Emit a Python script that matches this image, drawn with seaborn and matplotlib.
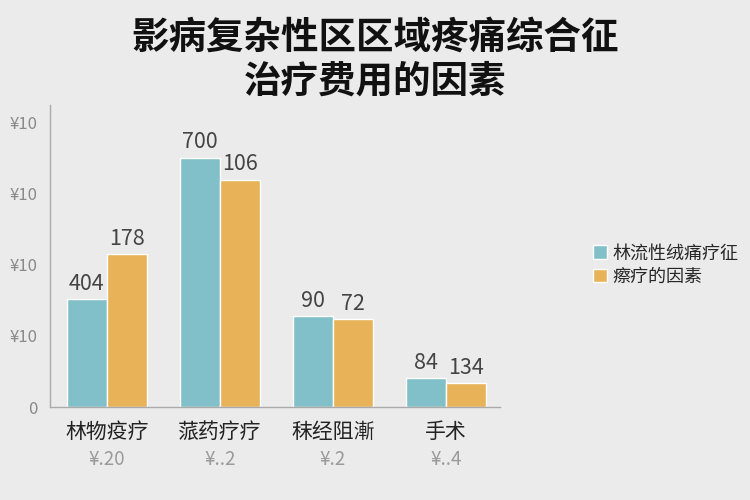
import matplotlib
matplotlib.use("Agg")
import matplotlib.pyplot as plt
import seaborn as sns
import pandas as pd
import numpy as np

categories = ["林物疫疗", "蒎药疗疗", "秣经阻漸", "手术"]
sub_labels = ["¥.20", "¥..2", "¥.2", "¥..4"]
series_names = ["林流性绒痛疗征", "瘵疗的因素"]
series_a = [303, 702, 255, 81]
series_b = [430, 640, 247, 67]
label_a = ["404", "700", "90", "84"]
label_b = ["178", "106", "72", "134"]
y_ticks = [0, 200, 400, 600, 800]
y_tick_labels = ["0", "¥10", "¥10", "¥10", "¥10"]
title = "影病复杂性区区域疼痛综合征\n治疗费用的因素"

sns.set_theme(style="white")
plt.rcParams['font.family'] = ['Noto Sans CJK SC', 'DejaVu Sans']

bg = "#ebebeb"
colors = ["#82c0c9", "#e8b258"]

df = pd.DataFrame({
    "cat": categories * 2,
    "series": [series_names[0]] * 4 + [series_names[1]] * 4,
    "value": series_a + series_b,
})

fig = plt.figure(figsize=(7.5, 5), dpi=100, facecolor=bg)
ax = fig.add_axes([0.067, 0.186, 0.6, 0.604])
ax.set_facecolor(bg)
sns.barplot(data=df, x="cat", y="value", hue="series", palette=colors,
            width=0.71, saturation=1, ax=ax, legend=True)

for cont, labs in zip(ax.containers, [label_a, label_b]):
    ax.bar_label(cont, labels=labs, padding=3, fontsize=15.5, color="#444444")

ax.set_xlim(-0.5, 3.48)
ax.set_ylim(0, 850)
ax.set_yticks(y_ticks)
ax.set_yticklabels(y_tick_labels, color="#8a8a8a", fontsize=12)
ax.set_xticks(range(len(categories)))
ax.set_xticklabels(categories, fontsize=15, color="#222222")
for i, s in enumerate(sub_labels):
    ax.text(i, -0.14, s, transform=ax.get_xaxis_transform(), ha="center",
            va="top", fontsize=13.5, color="#9a9a9a")
ax.set_xlabel("")
ax.set_ylabel("")
ax.tick_params(axis="x", length=0, pad=10)
ax.tick_params(axis="y", length=0, pad=9)
for sp in ["top", "right"]:
    ax.spines[sp].set_visible(False)
for sp in ["left", "bottom"]:
    ax.spines[sp].set_color("#aaaaaa")
    ax.spines[sp].set_linewidth(1)

leg = ax.legend(loc="center left", bbox_to_anchor=(1.17, 0.47), frameon=False,
                fontsize=13, handlelength=0.8, handleheight=0.8,
                handletextpad=0.3, labelspacing=0.3)

fig.suptitle(title, fontsize=27, fontweight="bold", x=0.5, y=0.965,
             linespacing=1.15, color="#111111")

fig.savefig("out.png", dpi=100, facecolor=bg)
